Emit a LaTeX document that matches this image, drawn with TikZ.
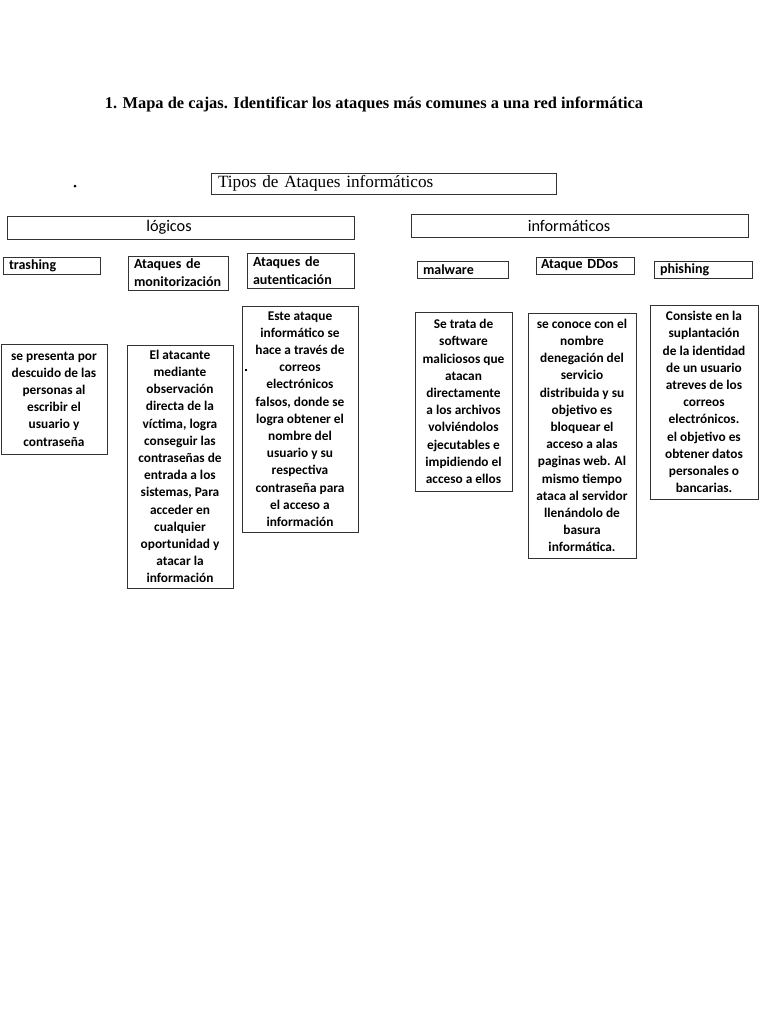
\documentclass[tikz,border=0pt]{standalone}
\usepackage{fontspec}
\setmainfont{Liberation Serif}
\newfontfamily\cfont{Carlito}
\newcommand\descfont{\cfont\bfseries\fontsize{10}{12.9}\selectfont}
\newcommand\labfont{\cfont\bfseries\fontsize{10.5}{13.5}\selectfont}
\newcommand\catfont{\cfont\fontsize{12.2}{14}\selectfont}
\tikzset{
  box/.style={draw=black!80, line width=0.75pt, inner sep=0pt},
  desc/.style={box, align=center, font=\descfont},
  lab/.style={box, align=left, font=\labfont, inner xsep=4.5pt},
  cat/.style={box, font=\catfont},
}
\begin{document}
\begin{tikzpicture}[x=0.75pt,y=-0.75pt]
\fill[white] (0,0) rectangle (768,1024);
\useasboundingbox (0,0) rectangle (768,1024);

\node (title) at (374,104) {\bfseries\fontsize{12.3}{14}\selectfont 1. Mapa de cajas. Identificar los ataques más comunes a una red informática};

\fill (75,186) circle (1.5);

\node[box, align=left, text width=248.25pt, inner xsep=5.25pt, minimum height=15.75pt, font=\fontsize{12.9}{14}\selectfont] (tipos) at (383.5,183.5) {Tipos de Ataques informáticos};

\node[cat, minimum width=260.25pt, minimum height=17.25pt] (logicos) at (180.5,227.5) {};
\node[font=\catfont, inner sep=0pt] (logicosT) at (169,227.5) {lógicos};
\node[cat, minimum width=252.75pt, minimum height=17.25pt] (informaticos) at (579.5,225.5) {};
\node[font=\catfont, inner sep=0pt] (informaticosT) at (569,225.5) {informáticos};

% labels
\node[lab, text width=63.75pt, minimum height=12.75pt] (trashing) at (51.5,265.5) {trashing};
\node[lab, text width=66pt, minimum height=25.5pt] (monit) at (178,273) {Ataques de\\monitorización};
\node[lab, text width=71.25pt, minimum height=26.25pt] (autent) at (300.5,270.5) {Ataques de\\autenticación};
\node[lab, text width=59.25pt, minimum height=12.75pt] (malware) at (462.5,269.5) {malware};
\node[lab, minimum height=12.75pt, inner xsep=3.75pt, text width=66pt] (ddos) at (585,265.5) {Ataque DDos};
\node[lab, text width=64.5pt, minimum height=12.75pt] (phishing) at (703,269.5) {phishing};

% descriptions
\node[desc, minimum width=79.5pt, minimum height=82.5pt] (trashingD) at (54,399)
 {se presenta por\\descuido de las\\personas al\\escribir el\\usuario y\\contraseña};
\node[desc, minimum width=79.5pt, minimum height=182.25pt] (monitD) at (180,466.5)
 {El atacante\\mediante\\observación\\directa de la\\víctima, logra\\conseguir las\\contraseñas de\\entrada a los\\sistemas, Para\\acceder en\\cualquier\\oportunidad y\\atacar la\\información};
\node[desc, minimum width=87pt, minimum height=169.5pt] (autentD) at (300,419)
 {Este ataque\\informático se\\hace a través de\\correos\\electrónicos\\falsos, donde se\\logra obtener el\\nombre del\\usuario y su\\respectiva\\contraseña para\\el acceso a\\información};
\fill (244.8,368.8) rectangle (247.2,371.2);
\node[desc, minimum width=72.75pt, minimum height=134.25pt] (malwareD) at (463.5,401.5)
 {Se trata de\\software\\maliciosos que\\atacan\\directamente\\a los archivos\\volviéndolos\\ejecutables e\\impidiendo el\\acceso a ellos};
\node[desc, minimum width=81pt, minimum height=183.75pt] (ddosD) at (582,435.5)
 {se conoce con el\\nombre\\denegación del\\servicio\\distribuida y su\\objetivo es\\bloquear el\\acceso a alas\\paginas web. Al\\mismo tiempo\\ataca al servidor\\llenándolo de\\basura\\informática.};
\node[desc, minimum width=81pt, minimum height=145.5pt] (phishingD) at (704,402)
 {Consiste en la\\suplantación\\de la identidad\\de un usuario\\atreves de los\\correos\\electrónicos.\\el objetivo es\\obtener datos\\personales o\\bancarias.};
\end{tikzpicture}
\end{document}
